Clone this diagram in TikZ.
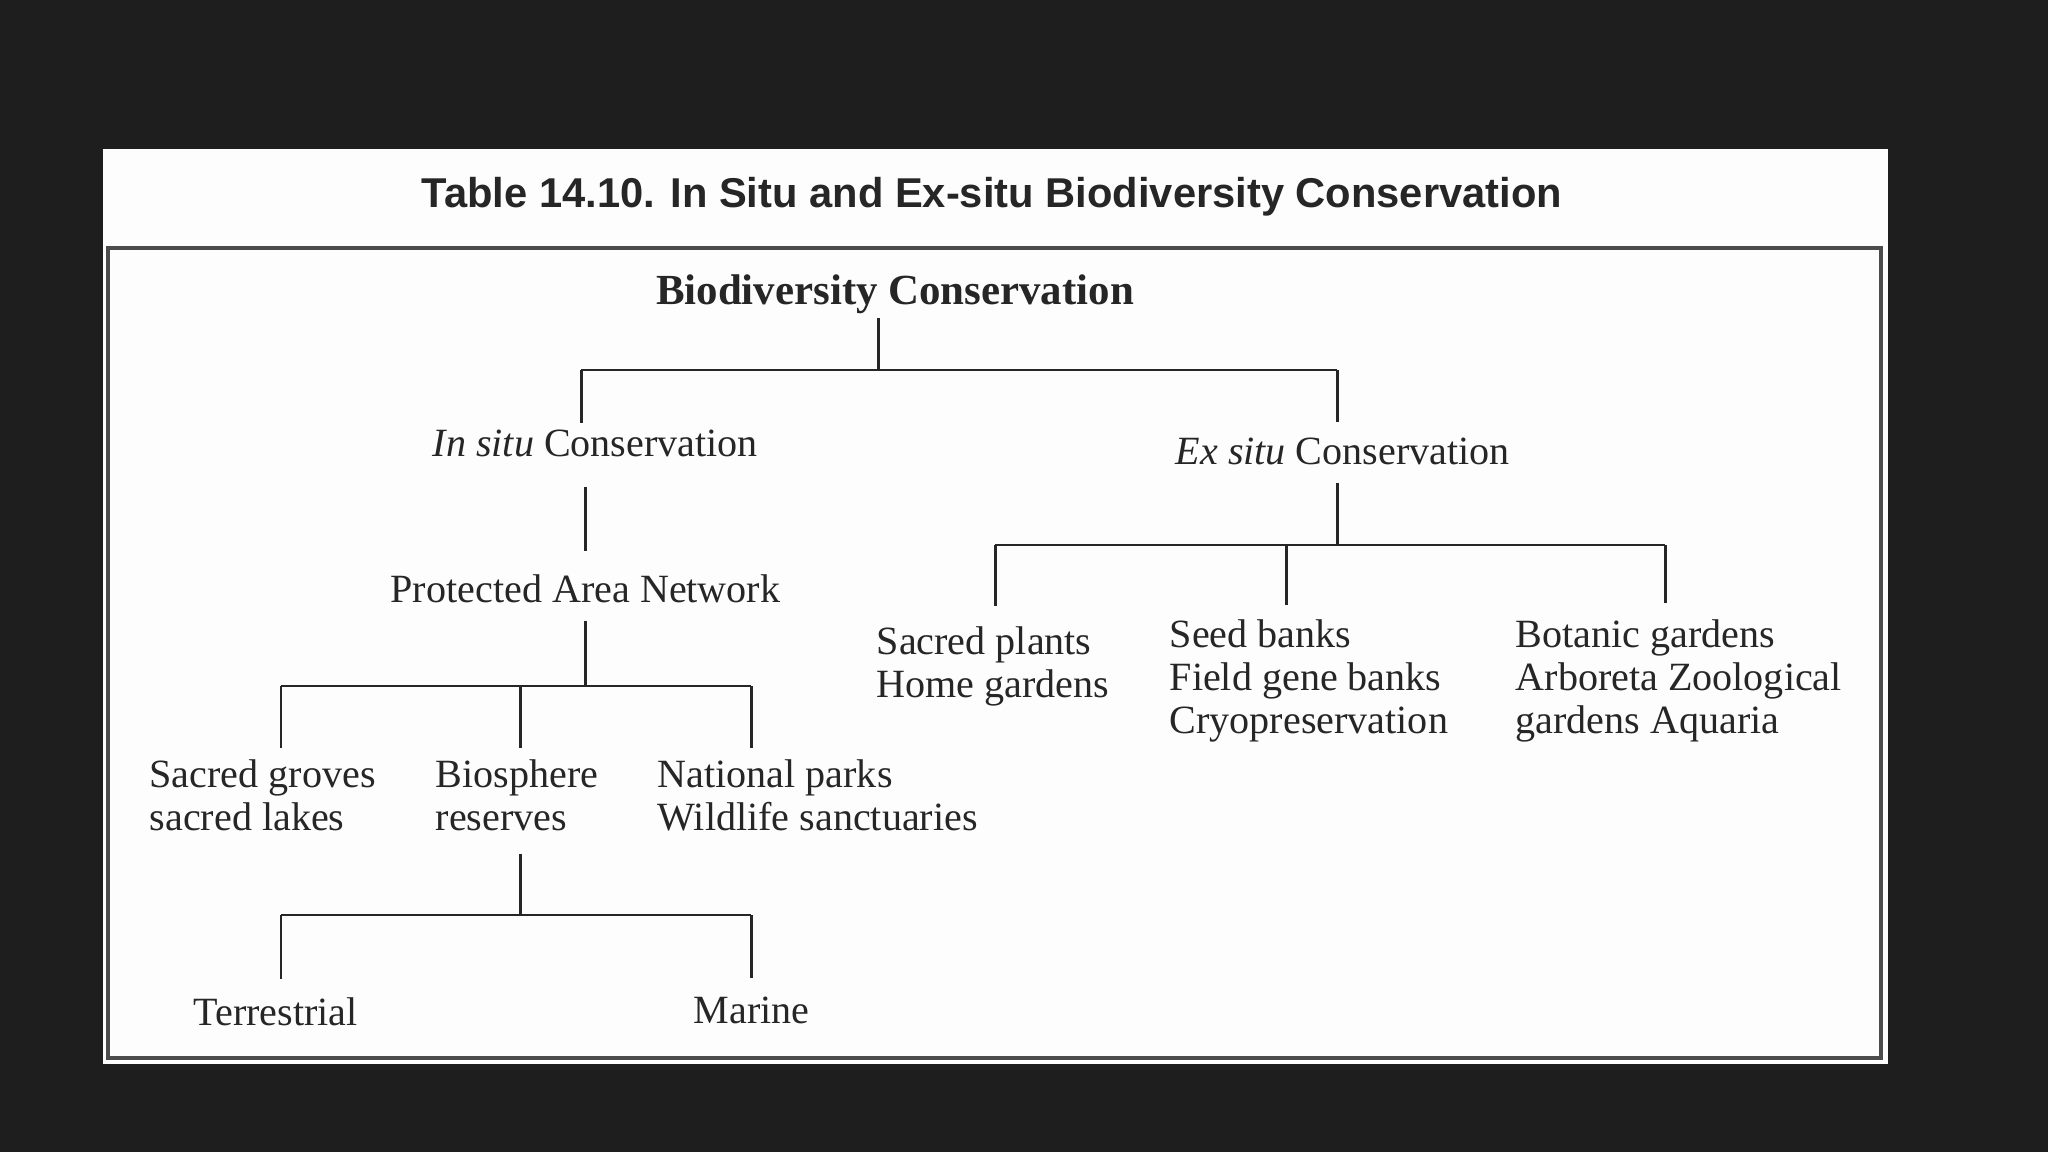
\documentclass[tikz,border=0pt]{standalone}
\usepackage{fontspec}
\setmainfont{Liberation Serif}
\newfontfamily\titlefont{Liberation Sans}
\definecolor{paper}{HTML}{FDFDFD}
\definecolor{ink}{HTML}{262626}
\definecolor{backdrop}{HTML}{1E1E1E}
\begin{document}
\begin{tikzpicture}[x=0.01cm,y=-0.01cm]
    \tikzset{every node/.style={inner sep=0pt,text=ink}}
    \tikzset{entry/.style={anchor=base west,font=\fontsize{11.4}{12.2}\selectfont}}
    \tikzset{stack/.style={anchor=north west,align=left,font=\fontsize{11.4}{12.2}\selectfont}}
    \tikzset{tree/.style={draw=ink,line width=0.85pt}}
    \useasboundingbox (0,0) rectangle (2048,1152);
    \fill [backdrop] (0,0) rectangle (2048,1152);
    \fill [paper] (103,149) rectangle (1888,1064);
    \draw [black!70,line width=0.9pt] (108,248) rectangle (1881,1058);
    % headings
    \node (title) [anchor=base,font=\titlefont\bfseries\fontsize{11.85}{14}\selectfont] at (992,208) {Table 14.10. In Situ and Ex-situ Biodiversity Conservation};
    \node (bio) [anchor=base,font=\bfseries\fontsize{12.2}{14}\selectfont] at (895,305) {Biodiversity Conservation};
    \node (insitu) [entry] at (432,457) {\textit{In situ} Conservation};
    \node (exsitu) [entry] at (1175,465) {\textit{Ex situ} Conservation};
    \node (pan) [entry] at (390,603) {Protected Area Network};
    % in situ leaves (top = first baseline - strut height)
    \node (groves) [stack] at (149,757) {\strut Sacred groves\\sacred lakes};
    \node (bios) [stack] at (435,757) {\strut Biosphere\\reserves};
    \node (parks) [stack] at (657,757) {\strut National parks\\Wildlife sanctuaries};
    \node (terr) [entry] at (193,1025) {Terrestrial};
    \node (marine) [entry] at (693,1023) {Marine};
    % ex situ leaves
    \node (plants) [stack] at (876,624) {\strut Sacred plants\\Home gardens};
    \node (seeds) [stack] at (1169,617) {\strut Seed banks\\Field gene banks\\Cryopreservation};
    \node (botanic) [stack] at (1515,617) {\strut Botanic gardens\\Arboreta Zoological\\gardens Aquaria};
    % junctions
    \coordinate (rootj) at (878,370);
    \coordinate (rootL) at (581,370);
    \coordinate (rootR) at (1337,370);
    \coordinate (panj) at (585,686);
    \coordinate (panL) at (281,686);
    \coordinate (panM) at (520,686);
    \coordinate (panR) at (751,686);
    \coordinate (bioj) at (520,915);
    \coordinate (bioL) at (281,915);
    \coordinate (bioR) at (751,915);
    \coordinate (exj) at (1337,545);
    \coordinate (exL) at (995,545);
    \coordinate (exM) at (1286,545);
    \coordinate (exR) at (1665,545);
    % top level
    \draw [tree,shorten <=1pt] (bio.south -| rootj) -- (rootj);
    \draw [tree] (rootL) -- (rootR);
    \draw [tree,shorten >=2pt] (rootL) -- (rootL |- insitu.north);
    \draw [tree,shorten >=4.5pt] (rootR) -- (rootR |- exsitu.north);
    % in situ
    \draw [tree,shorten <=8.2pt,shorten >=6.8pt] (insitu.south -| panj) -- (pan.north -| panj);
    \draw [tree,shorten <=4.8pt] (pan.south -| panj) -- (panj);
    \draw [tree] (panL) -- (panR);
    \draw [tree,shorten >=2.6pt] (panL) -- (panL |- groves.north);
    \draw [tree,shorten >=2.6pt] (panM) -- (panM |- bios.north);
    \draw [tree,shorten >=2.6pt] (panR) -- (panR |- parks.north);
    \draw [tree,shorten <=6.3pt] (bios.south -| bioj) -- (bioj);
    \draw [tree] (bioL) -- (bioR);
    \draw [tree,shorten >=5pt] (bioL) -- (bioL |- terr.north);
    \draw [tree,shorten >=5pt] (bioR) -- (bioR |- marine.north);
    % ex situ
    \draw [tree,shorten <=4.8pt] (exsitu.south -| exj) -- (exj);
    \draw [tree] (exL) -- (exR);
    \draw [tree,shorten >=5pt] (exL) -- (exL |- plants.north);
    \draw [tree,shorten >=3.4pt] (exM) -- (exM |- seeds.north);
    \draw [tree,shorten >=4pt] (exR) -- (exR |- botanic.north);
\end{tikzpicture}
\end{document}
